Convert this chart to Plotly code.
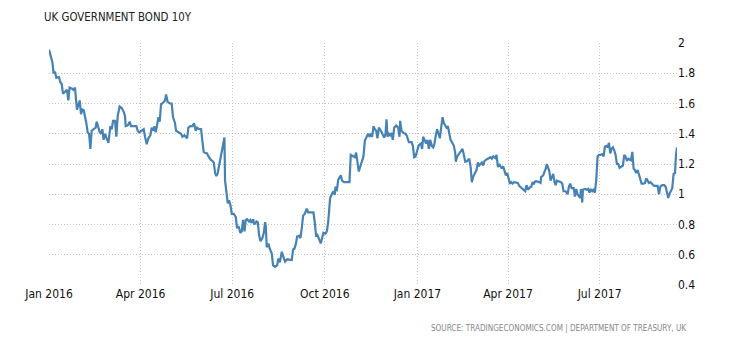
import pandas as pd
import plotly.graph_objects as go

title_text = "UK GOVERNMENT BOND 10Y"
source_text = "SOURCE: TRADINGECONOMICS.COM | DEPARTMENT OF TREASURY, UK"
start_date = "2016-01-01"
tick_dates = ["2016-01-01", "2016-04-01", "2016-07-01", "2016-10-01",
              "2017-01-01", "2017-04-01", "2017-07-01"]
tick_labels = ["Jan 2016", "Apr 2016", "Jul 2016", "Oct 2016",
               "Jan 2017", "Apr 2017", "Jul 2017"]
y_ticks = [0.4, 0.6, 0.8, 1.0, 1.2, 1.4, 1.6, 1.8, 2.0]

# days since 2016-01-01
days = [
    0, 2.0, 3.3, 4.6, 6.0, 7.3, 9.9, 11.3, 12.6, 13.9,
    15.9, 17.9, 19.2, 20.5, 22.5, 24.2, 25.8, 27.8, 29.2, 30.5,
    31.8, 33.1, 34.5, 35.8, 37.1, 38.4, 39.8, 41.1, 42.4, 44.4,
    46.4, 47.4, 49.0, 50.4, 51.7, 53.0, 54.3, 55.7, 57.0, 59.0,
    61.0, 62.3, 63.6, 65.6, 66.9, 68.3, 70.2, 72.2, 74.2, 75.5,
    76.2, 78.2, 80.2, 81.5, 84.2, 86.8, 88.1, 89.5, 92.1, 94.1,
    95.4, 97.1, 98.7, 100.7, 102.0, 103.4, 104.7, 106.0, 107.3, 108.7,
    110.0, 111.3, 112.6, 114.0, 115.3, 116.3, 117.9, 119.9, 121.9, 123.2,
    125.2,
    126.2, 128.6, 131.2, 132.5, 134.5, 135.8, 137.2, 138.5, 140.5, 142.5,
    144.1, 145.8, 147.1, 149.1, 151.1, 152.4, 153.7, 155.1, 157.0, 158.4,
    160.4, 162.3, 163.7, 165.0, 166.3, 167.6, 169.6, 171.6, 172.9, 174.3,
    174.9, 176.3, 177.6, 178.9, 180.2, 181.6, 183.5, 185.5, 186.9, 188.2,
    190.2, 191.5, 192.8, 194.2, 195.5, 196.8, 198.8, 200.1, 201.4, 202.8,
    204.1, 206.1, 207.4, 208.7, 210.1, 212.0, 213.4, 214.7, 215.4, 216.3,
    218.0, 219.3, 221.3, 222.6, 224.6, 226.6, 227.9, 229.3, 231.3, 232.6,
    234.6, 236.6, 239.2, 241.2, 242.5, 243.8, 245.2, 246.5, 248.5, 249.8,
    251.1, 252.5,
    254.1, 256.1, 257.4, 259.4, 261.4, 262.7, 264.1, 265.4, 266.7, 268.0,
    270.0, 271.3, 272.7, 274.7, 276.0, 277.3, 279.3, 281.3, 282.6, 283.9,
    284.6, 285.9, 287.3, 288.6, 289.9, 291.2, 293.2, 295.9, 298.5, 299.8,
    301.8, 303.8, 305.1, 306.5, 307.8, 309.1, 311.1, 312.4, 313.8, 315.1,
    317.1, 318.4, 319.7, 321.0, 322.4, 323.7, 325.0, 326.3, 327.7, 329.7,
    331.6, 333.0, 334.3, 335.3, 336.3, 337.6, 338.9, 340.2, 341.6, 342.9,
    344.9, 346.9, 348.2, 348.9, 350.2, 352.2, 354.2, 355.5, 357.5, 360.1,
    361.5, 362.8, 364.1, 365.4, 367.4, 369.4, 370.7, 371.7, 373.4, 374.7,
    376.0, 377.4, 378.7,
    380.3, 381.7, 383.0, 384.3, 385.6, 387.0, 388.3, 389.6, 391.0, 392.3,
    393.6, 394.9, 396.3, 397.6, 398.9, 400.2, 402.2, 403.5, 404.2, 405.5,
    407.5, 409.5, 410.8, 412.2, 413.5, 415.5, 417.5, 418.8, 420.1, 421.4,
    423.4, 424.7, 426.1, 427.4, 428.7, 430.0, 431.4, 432.7, 434.7, 436.7,
    438.7, 440.0, 441.3, 443.3, 444.6, 446.0, 447.3, 448.6, 449.9, 451.2,
    452.6, 453.9, 455.2, 456.5, 457.9, 459.2, 460.5, 461.8, 463.8, 465.8,
    467.1, 469.8, 471.8, 473.1, 474.4, 475.8, 477.7, 479.1, 480.4, 481.7,
    483.1, 485.0, 487.0, 488.3, 489.0, 491.0, 492.3, 493.6, 494.6, 495.6,
    497.0, 498.3, 499.6, 500.9, 502.3,
    503.3, 504.6, 506.6, 508.6, 509.9, 511.2, 513.2, 515.2, 516.5, 517.8,
    519.2, 521.2, 522.5, 523.8, 525.1, 526.5, 527.8, 528.4, 529.8, 530.4,
    532.4, 534.4, 535.7, 537.0, 538.4, 539.7, 541.0, 542.3, 543.7, 545.0,
    546.3, 547.7, 549.6, 551.0, 552.3, 553.6, 555.0, 556.3, 557.6, 558.9,
    560.2, 561.6, 562.9, 564.2, 565.5, 566.9, 568.9, 570.2, 571.5, 572.8,
    574.2, 575.5, 576.8, 578.1, 579.5, 580.8, 582.1, 583.4, 584.8, 586.1,
    587.4, 588.7, 590.7, 592.1, 593.4, 594.7, 596.0, 597.4, 598.7, 600.0,
    601.3, 603.3, 604.6, 606.0, 607.3, 609.3, 611.3, 612.6, 613.9, 615.2,
    616.6, 617.9, 619.2, 620.5, 621.9, 622.9, 623.9,
]

yields = [
    1.956, 1.91, 1.875, 1.80, 1.81, 1.77, 1.775, 1.74, 1.73, 1.665,
    1.675, 1.69, 1.62, 1.705, 1.70, 1.69, 1.705, 1.56, 1.59, 1.62,
    1.53, 1.56, 1.555, 1.52, 1.47, 1.41, 1.40, 1.30, 1.42, 1.43,
    1.44, 1.48, 1.43, 1.41, 1.40, 1.43, 1.36, 1.40, 1.375, 1.34,
    1.45, 1.43, 1.485, 1.485, 1.38, 1.52, 1.58, 1.57, 1.545, 1.52,
    1.45, 1.455, 1.48, 1.45, 1.45, 1.45, 1.42, 1.41, 1.42, 1.43,
    1.38, 1.33, 1.37, 1.39, 1.44, 1.42, 1.45, 1.41, 1.455, 1.51,
    1.48, 1.595, 1.60, 1.61, 1.62, 1.66, 1.61, 1.60, 1.60, 1.51,
    1.47,
    1.42, 1.41, 1.40, 1.38, 1.39, 1.38, 1.37, 1.44, 1.45, 1.45,
    1.47, 1.42, 1.44, 1.43, 1.43, 1.35, 1.28, 1.275, 1.27, 1.25,
    1.23, 1.22, 1.21, 1.14, 1.12, 1.14, 1.21, 1.28, 1.32, 1.375,
    1.09, 1.02, 0.94, 0.96, 0.93, 0.87, 0.87, 0.85, 0.775, 0.79,
    0.745, 0.755, 0.83, 0.755, 0.83, 0.835, 0.82, 0.83, 0.81, 0.835,
    0.80, 0.82, 0.815, 0.73, 0.69, 0.71, 0.745, 0.815, 0.79, 0.65,
    0.675, 0.64, 0.61, 0.53, 0.52, 0.53, 0.575, 0.55, 0.62, 0.59,
    0.555, 0.57, 0.565, 0.565, 0.635, 0.64, 0.67, 0.72, 0.725, 0.71,
    0.775, 0.86,
    0.87, 0.905, 0.88, 0.88, 0.88, 0.88, 0.81, 0.72, 0.73, 0.71,
    0.675, 0.71, 0.745, 0.74, 0.755, 0.81, 0.975, 1.005, 1.02, 0.995,
    1.05, 1.02, 1.095, 1.11, 1.125, 1.09, 1.08, 1.08, 1.08, 1.26,
    1.25, 1.245, 1.275, 1.19, 1.15, 1.18, 1.225, 1.25, 1.355, 1.37,
    1.40, 1.38, 1.40, 1.38, 1.45, 1.43, 1.42, 1.37, 1.44, 1.42,
    1.39, 1.375, 1.40, 1.495, 1.38, 1.40, 1.39, 1.405, 1.36, 1.44,
    1.455, 1.44, 1.38, 1.485, 1.42, 1.405, 1.40, 1.385, 1.345, 1.345,
    1.32, 1.245, 1.25, 1.28, 1.325, 1.335, 1.30, 1.38, 1.36, 1.335,
    1.36, 1.30, 1.36,
    1.32, 1.31, 1.335, 1.39, 1.43, 1.40, 1.37, 1.44, 1.51, 1.47,
    1.455, 1.44, 1.45, 1.41, 1.36, 1.345, 1.32, 1.275, 1.215, 1.25,
    1.27, 1.29, 1.30, 1.26, 1.215, 1.22, 1.235, 1.185, 1.08, 1.115,
    1.15, 1.16, 1.21, 1.19, 1.20, 1.21, 1.19, 1.22, 1.23, 1.24,
    1.245, 1.235, 1.25, 1.24, 1.26, 1.18, 1.20, 1.185, 1.17, 1.185,
    1.16, 1.125, 1.14, 1.105, 1.07, 1.08, 1.07, 1.08, 1.075, 1.075,
    1.055, 1.04, 1.03, 1.02, 1.06, 1.03, 1.045, 1.05, 1.08, 1.07,
    1.085, 1.085, 1.08, 1.075, 1.115, 1.125, 1.15, 1.17, 1.20, 1.18,
    1.155, 1.09, 1.115, 1.135, 1.08,
    1.06, 1.09, 1.085, 1.08, 1.07, 1.02, 1.02, 1.00, 1.05, 1.07,
    1.04, 1.04, 0.985, 1.035, 1.00, 0.985, 0.975, 1.035, 0.945, 1.03,
    1.035, 1.03, 1.035, 1.01, 1.035, 1.02, 1.03, 1.01, 1.095, 1.25,
    1.26, 1.26, 1.265, 1.25, 1.315, 1.32, 1.31, 1.34, 1.27, 1.30,
    1.31, 1.29, 1.26, 1.20, 1.20, 1.175, 1.185, 1.19, 1.26, 1.25,
    1.22, 1.235, 1.23, 1.225, 1.28, 1.17, 1.16, 1.14, 1.16, 1.125,
    1.095, 1.07, 1.07, 1.075, 1.105, 1.09, 1.075, 1.08, 1.07, 1.06,
    1.055, 1.055, 1.055, 1.00, 1.05, 1.06, 1.06, 1.05, 1.005, 0.975,
    1.005, 1.03, 1.04, 1.135, 1.14, 1.26, 1.31,
]

assert len(days) == len(yields), (len(days), len(yields))

dates = pd.Timestamp(start_date) + pd.to_timedelta(days, unit="D")

FONT = "Liberation Sans Narrow, DejaVu Sans Condensed, Liberation Sans, sans-serif"
GRID = "#c4c4c4"
GRID_DASH = "1px,2px"

fig = go.Figure(
    go.Scatter(
        x=dates, y=yields, mode="lines",
        line=dict(color="#4682b4", width=2.2),
        hoverinfo="skip",
    )
)

fig.update_layout(
    width=730, height=340,
    margin=dict(l=49, r=53, t=43, b=55),
    paper_bgcolor="white", plot_bgcolor="white",
    showlegend=False,
    title=dict(
        text=title_text, xref="container", yref="container",
        x=44 / 730, xanchor="left", y=1 - 17.5 / 340, yanchor="middle",
        font=dict(family=FONT, size=11.4, color="#222"),
    ),
    font=dict(family=FONT, color="#111"),
)

fig.update_xaxes(
    range=[dates[0], dates[-1]],
    tickvals=pd.to_datetime(tick_dates), ticktext=tick_labels,
    showgrid=True, gridcolor=GRID, griddash=GRID_DASH, gridwidth=1,
    showline=False, zeroline=False, ticks="",
    tickfont=dict(family=FONT, size=12, color="#111"),
)
fig.update_yaxes(
    range=[0.4, 2.0], side="right", tickvals=y_ticks,
    showgrid=True, gridcolor=GRID, griddash=GRID_DASH, gridwidth=1,
    showline=False, zeroline=False, ticks="",
    tickfont=dict(family=FONT, size=12, color="#111"),
)

fig.add_annotation(
    text=source_text, xref="paper", yref="paper",
    x=(688 - 49) / 628, xanchor="right", y=(285 - 328) / 242, yanchor="middle",
    showarrow=False, font=dict(family=FONT, size=8.1, color="#888"),
)

fig.write_html("out.html")
